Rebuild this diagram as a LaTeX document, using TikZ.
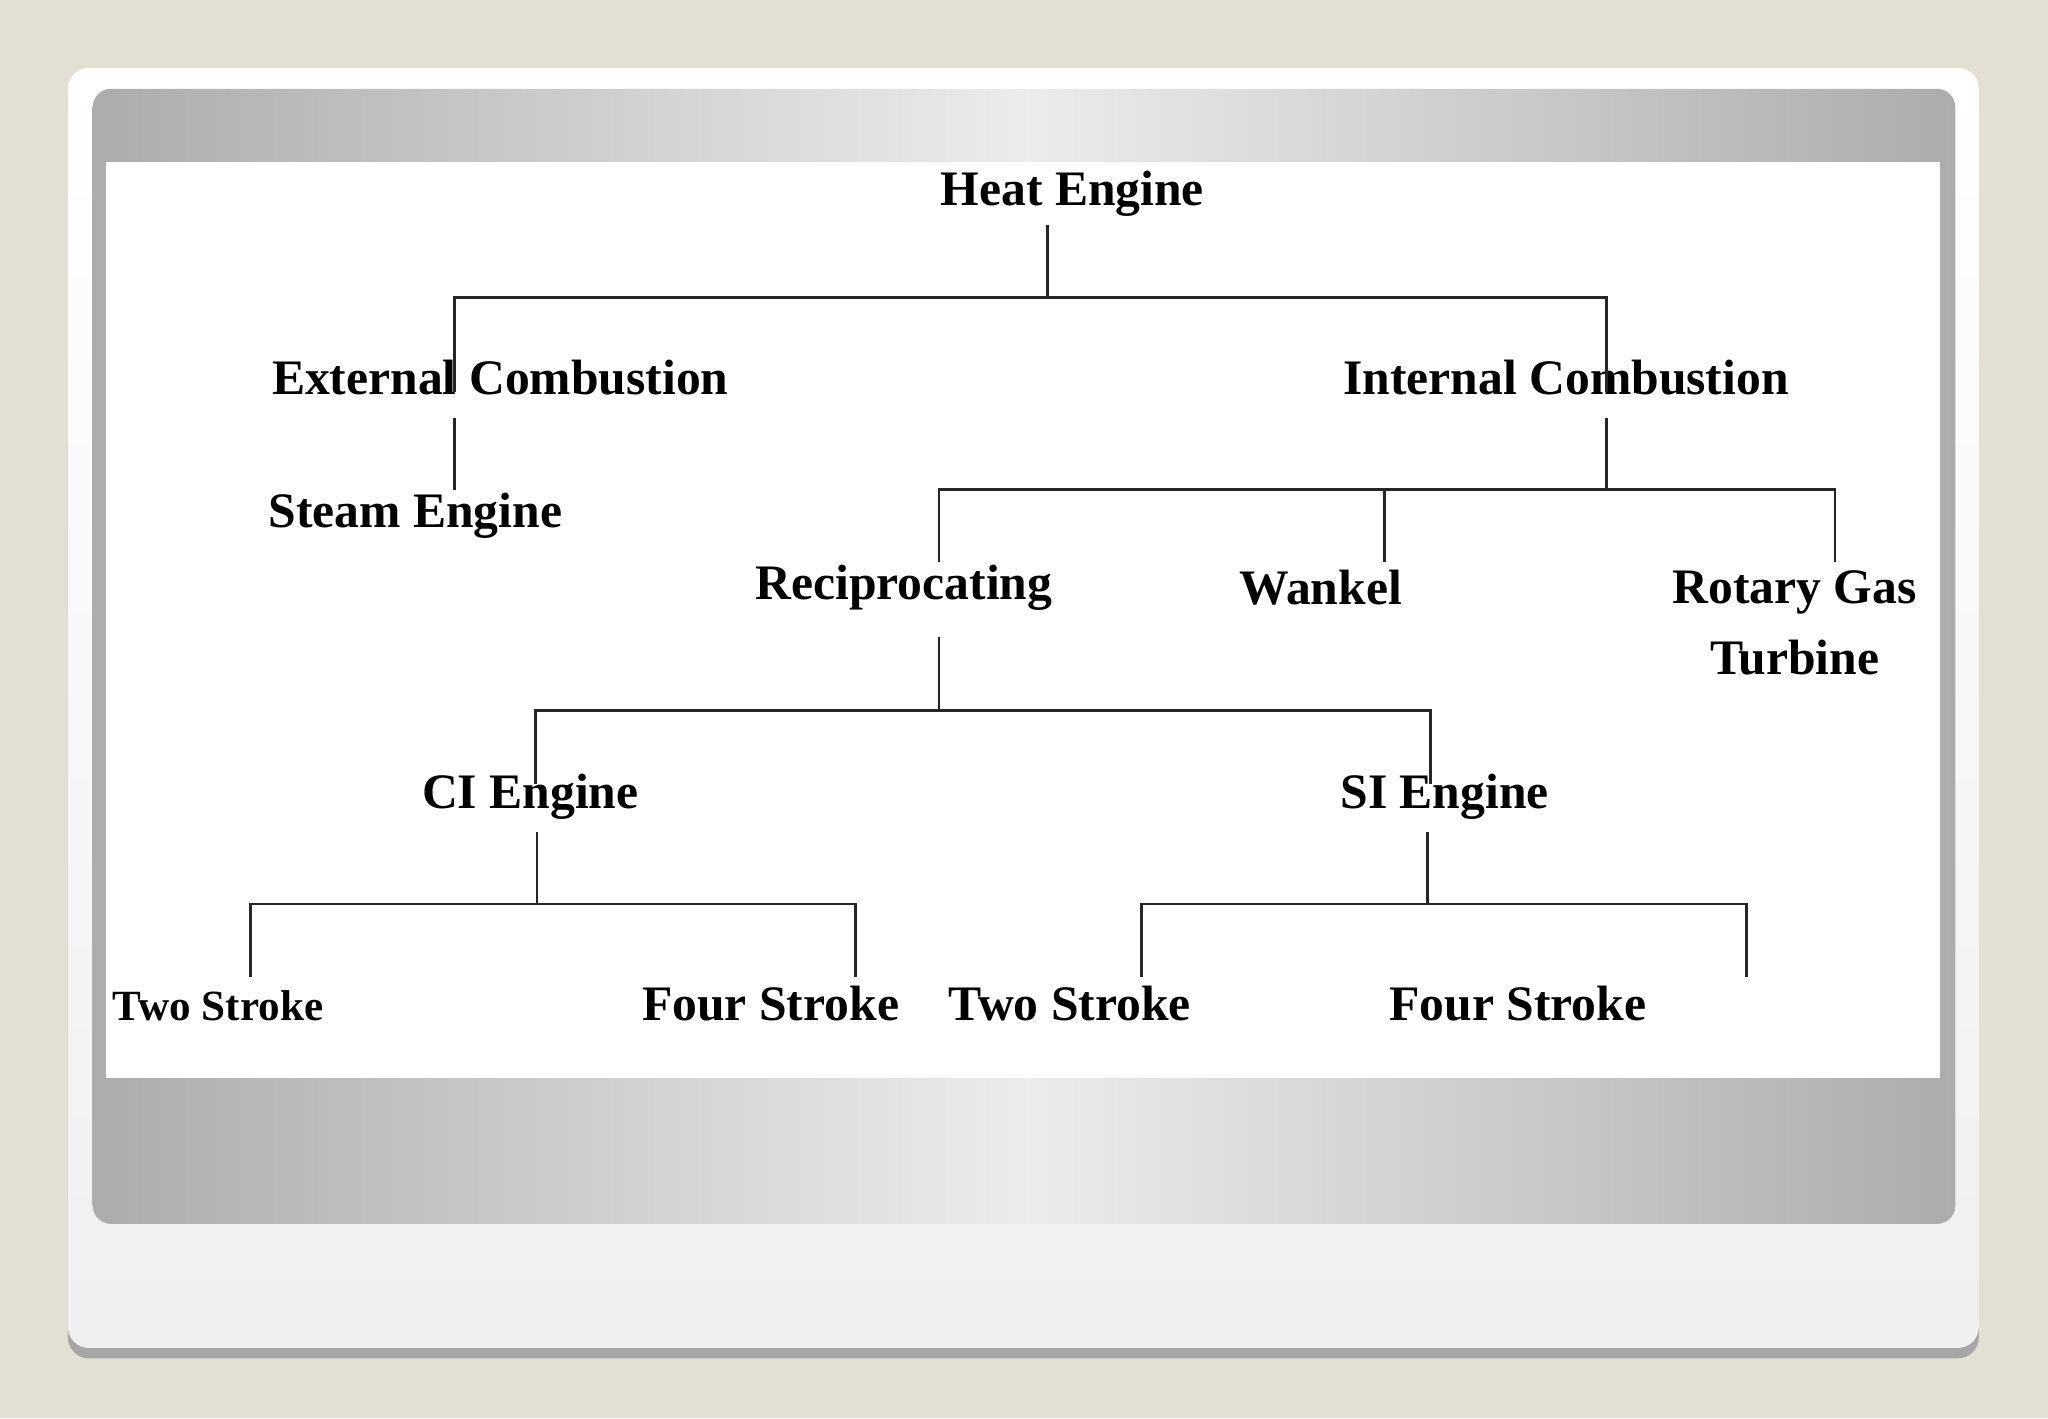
\documentclass[tikz,border=0pt]{standalone}
\usepackage{fontspec}
\setmainfont{Liberation Serif}
\begin{document}
\begin{tikzpicture}[x=1pt,y=-1pt,
  lbl/.style={font=\fontsize{38}{54}\selectfont\bfseries, inner sep=0pt, align=center},
  sml/.style={font=\fontsize{33}{38}\selectfont\bfseries, inner sep=0pt},
  ln/.style={line width=2pt, black!85}]
\fill[fill={rgb,255:red,227;green,224;blue,211}] (0,0) rectangle (1568,1086);
\useasboundingbox (0,0) rectangle (1568,1086);
\fill[gray!70, rounded corners=16pt] (52,58) rectangle (1515,1040);
\shade[rounded corners=16pt, top color=white, bottom color=gray!12] (52,52) rectangle (1515,1032);
\shade[rounded corners=14pt, left color=gray!65, right color=gray!65, middle color=gray!15] (71,68) rectangle (1497,937);
\fill[white] (81,124) rectangle (1485,825);
% nodes
\node[lbl] (he) at (821,148) {Heat Engine};
\node[lbl] (ec) at (383,289) {External Combustion};
\node[lbl] (ic) at (1199,289) {Internal Combustion};
\node[lbl] (se) at (318,395) {Steam Engine};
\node[lbl] (re) at (692,450) {Reciprocating};
\node[lbl] (wa) at (1011,450) {Wankel};
\node[lbl] (rg) at (1374,477) {Rotary Gas\\Turbine};
\node[lbl] (ci) at (406,610) {CI Engine};
\node[lbl] (si) at (1106,610) {SI Engine};
\node[sml] (t1) at (167,770) {Two Stroke};
\node[lbl] (f1) at (590,768) {Four Stroke};
\node[lbl] (t2) at (819,768) {Two Stroke};
\node[lbl] (f2) at (1162,768) {Four Stroke};
% coordinates
\coordinate (a0) at (802,172); \coordinate (a1) at (802,228);
\coordinate (a2) at (348,228); \coordinate (a3) at (1230,228);
\coordinate (a4) at (348,300); \coordinate (a5) at (1230,300);
\coordinate (b0) at (348,320); \coordinate (b1) at (348,375);
\coordinate (c0) at (1230,320); \coordinate (c1) at (1230,375);
\coordinate (c2) at (719,375); \coordinate (c3) at (1405,375);
\coordinate (c4) at (719,430); \coordinate (c5) at (1060,375); \coordinate (c6) at (1060,430); \coordinate (c7) at (1405,430);
\coordinate (d0) at (719,488); \coordinate (d1) at (719,544);
\coordinate (d2) at (410,544); \coordinate (d3) at (1095,544);
\coordinate (d4) at (410,600); \coordinate (d5) at (1095,600);
\coordinate (e0) at (411,637); \coordinate (e1) at (411,692);
\coordinate (e2) at (192,692); \coordinate (e3) at (655,692);
\coordinate (e4) at (192,748); \coordinate (e5) at (655,748);
\coordinate (g0) at (1093,637); \coordinate (g1) at (1093,692);
\coordinate (g2) at (874,692); \coordinate (g3) at (1337,692);
\coordinate (g4) at (874,748); \coordinate (g5) at (1337,748);
\draw[ln] (a0) -- (a1); \draw[ln] (a4) -- (a2) -- (a3) -- (a5);
\draw[ln] (b0) -- (b1);
\draw[ln] (c0) -- (c1); \draw[ln] (c4) -- (c2) -- (c3) -- (c7); \draw[ln] (c5) -- (c6);
\draw[ln] (d0) -- (d1); \draw[ln] (d4) -- (d2) -- (d3) -- (d5);
\draw[ln] (e0) -- (e1); \draw[ln] (e4) -- (e2) -- (e3) -- (e5);
\draw[ln] (g0) -- (g1); \draw[ln] (g4) -- (g2) -- (g3) -- (g5);
\end{tikzpicture}
\end{document}
